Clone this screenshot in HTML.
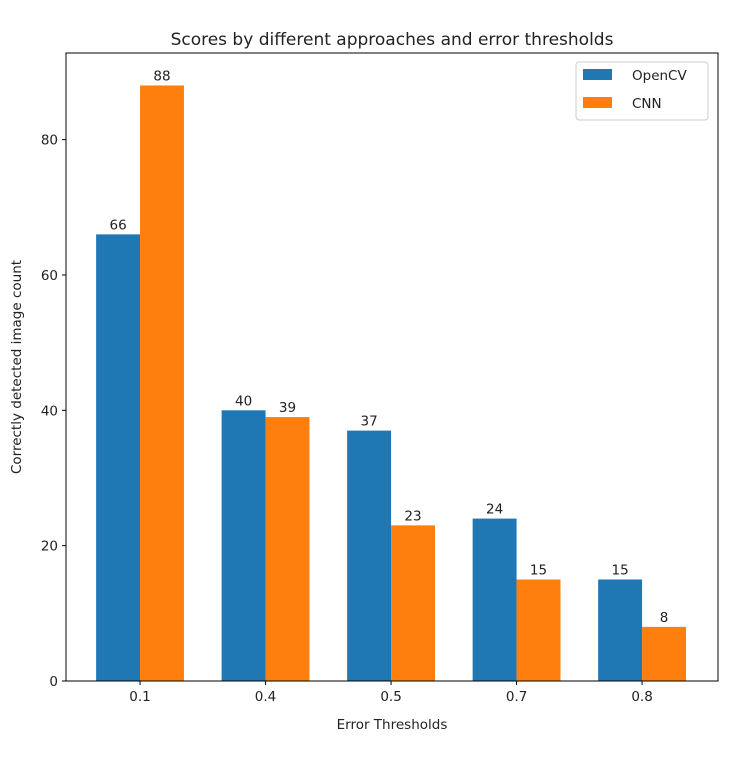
<!DOCTYPE html>
<html><head><meta charset="utf-8"><style>
body{margin:0;background:#fff;}
svg{font-family:"DejaVu Sans","Liberation Sans",sans-serif;}
</style></head><body>
<svg id="chart" width="752" height="764" xmlns="http://www.w3.org/2000/svg">
<text x="392" y="45" font-size="17" text-anchor="middle" fill="#222">Scores by different approaches and error thresholds</text>
<g id="plot"></g>
<text x="392" y="729" font-size="13.5" text-anchor="middle" fill="#222">Error Thresholds</text>
<text transform="translate(21,367) rotate(-90)" font-size="13.5" text-anchor="middle" fill="#222">Correctly detected image count</text>
<g>
<rect x="576" y="62" width="132" height="58" fill="#fff" stroke="#ccc" rx="3"/>
<g><rect x="583" y="69" width="29" height="11" fill="#1f77b4"/><text x="632" y="80" font-size="13.5" fill="#222">OpenCV</text></g>
<g><rect x="583" y="97" width="29" height="11" fill="#ff7f0e"/><text x="632" y="108" font-size="13.5" fill="#222">CNN</text></g>
</g>
</svg>
<script>
const categories=["0.1","0.4","0.5","0.7","0.8"];
const opencvValues=[66,40,37,24,15];
const cnnValues=[88,39,23,15,8];
const yTicks=[0,20,40,60,80];
const L=66,R=718,T=53,B=681;
const xMin=-0.59,xMax=4.605,yMax=92.8;
const xs=i=>L+(i-xMin)/(xMax-xMin)*(R-L);
const ys=v=>B-v/yMax*(B-T);
const bw=0.35;
const NS="http://www.w3.org/2000/svg";
const g=document.getElementById('plot');
function mk(t,a){const e=document.createElementNS(NS,t);for(const k in a)e.setAttribute(k,a[k]);g.appendChild(e);return e;}
function bars(vals,off,color,nm){
vals.forEach((v,i)=>{
const x0=xs(i+off-bw/2),x1=xs(i+off+bw/2);
const r=mk('rect',{x:x0,y:ys(v),width:x1-x0,height:B-ys(v),fill:color});


const t=mk('text',{x:(x0+x1)/2,y:ys(v)-5,'font-size':13.5,'text-anchor':'middle',fill:'#222'});
t.textContent=v;


});}
bars(opencvValues,-bw/2,'#1f77b4','opencv');
bars(cnnValues,bw/2,'#ff7f0e','cnn');
const fr=mk('rect',{x:L,y:T,width:R-L,height:B-T,fill:'none',stroke:'#000','stroke-width':1});


yTicks.forEach(v=>{
mk('line',{x1:L-4,x2:L,y1:ys(v),y2:ys(v),stroke:'#000'});
const t=mk('text',{x:L-8,y:ys(v)+5,'font-size':13.5,'text-anchor':'end',fill:'#222'});
t.textContent=v;


});
categories.forEach((c,i)=>{
mk('line',{x1:xs(i),x2:xs(i),y1:B,y2:B+4,stroke:'#000'});
const t=mk('text',{x:xs(i),y:B+20,'font-size':13.5,'text-anchor':'middle',fill:'#222'});
t.textContent=c;


});
</script>
</body></html>
